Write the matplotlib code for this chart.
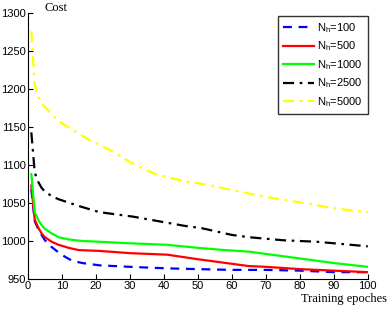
import matplotlib
matplotlib.use("Agg")
import matplotlib.pyplot as plt

plt.rcParams['font.family'] = ['Liberation Sans', 'DejaVu Sans']
plt.rcParams['mathtext.default'] = 'regular'

# Data
x_100 = [1, 2, 3, 4, 5, 7, 9, 11, 13, 16, 21, 30, 41, 50, 60, 70, 80, 90, 100]
y_100 = [1068, 1026, 1016, 1008, 1001, 992, 985, 979, 974, 971, 968, 966, 964, 963, 962, 962, 961, 959, 959]

x_500 = [1, 2, 3, 4, 5, 7, 9, 12, 15, 21, 30, 41, 50, 60, 65, 70, 80, 90, 100]
y_500 = [1073, 1028, 1018, 1010, 1005, 999, 995, 991, 988, 987, 984, 982, 976, 970, 967, 966, 963, 961, 959]

x_1000 = [1, 2, 3, 4, 5, 7, 9, 12, 16, 21, 30, 41, 50, 58, 65, 70, 80, 90, 100]
y_1000 = [1088, 1038, 1028, 1021, 1016, 1010, 1005, 1002, 1000, 999, 997, 995, 991, 988, 986, 983, 977, 971, 966]

x_2500 = [1, 2, 3, 4, 5, 7, 9, 11, 15, 21, 26, 31, 36, 41, 46, 51, 56, 60, 65, 70, 75, 80, 85, 90, 95, 100]
y_2500 = [1143, 1090, 1078, 1070, 1065, 1059, 1055, 1052, 1046, 1038, 1035, 1032, 1028, 1024, 1020, 1017, 1012, 1008, 1005, 1003, 1001, 1000, 999, 997, 995, 993]

x_5000 = [1, 2, 3, 4, 5, 7, 9, 11, 14, 18, 24, 30, 34, 37, 42, 47, 53, 60, 70, 80, 90, 100]
y_5000 = [1276, 1205, 1190, 1182, 1176, 1167, 1158, 1152, 1144, 1133, 1120, 1104, 1095, 1089, 1083, 1078, 1074, 1067, 1058, 1051, 1043, 1038]

labels = ['N$_h$=100', 'N$_h$=500', 'N$_h$=1000', 'N$_h$=2500', 'N$_h$=5000']
x_ticks = [0, 10, 20, 30, 40, 50, 60, 70, 80, 90, 100]
y_ticks = [950, 1000, 1050, 1100, 1150, 1200, 1250, 1300]

fig = plt.figure(figsize=(3.88, 3.10), dpi=100)
ax = fig.add_axes([0.072, 0.1, 0.876, 0.858])

lw = 1.6
ax.plot(x_100, y_100, color='#0000ff', lw=lw, linestyle=(0, (4, 3)), label=labels[0])
ax.plot(x_500, y_500, color='#ff0000', lw=lw, linestyle='-', label=labels[1])
ax.plot(x_1000, y_1000, color='#00ff00', lw=lw, linestyle='-', label=labels[2])
ax.plot(x_2500, y_2500, color='black', lw=lw, linestyle=(0, (5, 2.5, 1.2, 2.5)), label=labels[3])
ax.plot(x_5000, y_5000, color='#ffff00', lw=lw, linestyle=(0, (5, 2.5, 1.2, 2.5)), label=labels[4])

ax.set_xlim(0, 100)
ax.set_ylim(950, 1300)
ax.set_xticks(x_ticks)
ax.set_yticks(y_ticks)
ax.spines['top'].set_visible(False)
ax.spines['right'].set_visible(False)
ax.tick_params(direction='in', length=3.5, labelsize=8, pad=1.5)

fig.text(0.115, 0.975, 'Cost', family='Liberation Serif', fontsize=9, ha='left', va='center')
fig.text(0.997, 0.015, 'Training epoches', family='Liberation Serif', fontsize=9, ha='right', va='bottom')

leg = ax.legend(loc='upper left', bbox_to_anchor=(0.716, 0.948), bbox_transform=fig.transFigure,
                borderaxespad=0, fontsize=8, frameon=True, fancybox=False,
                handlelength=2.8, handletextpad=0.3, labelspacing=0.42, borderpad=0.45)
leg.get_frame().set_edgecolor('black')
leg.get_frame().set_linewidth(1.0)

fig.savefig('out.png', dpi=100)
